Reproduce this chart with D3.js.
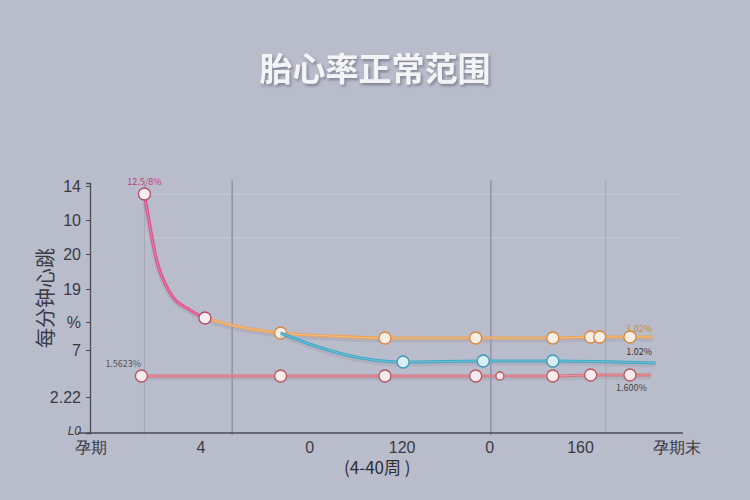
<!DOCTYPE html>
<html>
<head>
<meta charset="utf-8">
<script src="https://cdn.jsdelivr.net/npm/d3@7"></script>
<style>
  html, body { margin: 0; padding: 0; background: #b9bccb; }
  svg { display: block; font-family: "Noto Sans CJK SC", "Noto Sans", sans-serif; }
  .tick-label { fill: #3a3a44; font-size: 16px; }
  .pt-label { font-size: 9px; }
</style>
</head>
<body>
<div id="svg-container"></div>
<script>
////////////////////////////////////////////////////////////////////
////////////////////////////  Data  ////////////////////////////////
const title = "胎心率正常范围";
const yTitle = "每分钟心跳";
const xTitle = "(4-40周 )";

// axis ticks (value, label)
const xTickValues = [0, 7.3, 14.5, 20.6, 26.4, 32.4, 38.8];
const xTickLabels = ["孕期", "4", "0", "120", "0", "160", "孕期末"];
const yTickValues = [0, 14.4, 33.2, 44.4, 57.6, 71.6, 85.2, 98.8];
const yTickLabels = ["L0", "2.22", "7", "%", "19", "20", "10", "14"];
const xGridValues = [3.6, 9.4, 26.5, 34.1];
const yGridValues = [95.6, 78];

// series: x (week), y (value), m = marker drawn
const pinkX = [3.6, 4.4, 5.3, 6.6, 7.6];
const pinkY = [95.6, 69.2, 56, 49.2, 46];
const pinkM = [1, 0, 0, 0, 1];

const orangeX = [7.6, 9.9, 12.6, 15.9, 19.5, 25.5, 30.6, 33.1, 33.7, 35.7, 37.2];
const orangeY = [46, 42.4, 40, 38.8, 38, 38, 38, 38.4, 38.4, 38.4, 38.4];
const orangeM = [0, 0, 1, 0, 1, 1, 1, 1, 1, 1, 0];

const blueX = [12.6, 15.3, 17.9, 20.7, 26, 30.6, 37.4];
const blueY = [40, 34, 30, 28.4, 28.8, 28.8, 28];
const blueM = [0, 0, 0, 1, 1, 1, 0];

const redX = [3.4, 12.6, 19.5, 25.5, 27.1, 30.6, 33.1, 35.7, 37.1];
const redY = [22.8, 22.8, 22.8, 22.8, 22.8, 22.8, 23.2, 23.2, 23.2];
const redM = [1, 1, 1, 1, 2, 1, 1, 1, 0];

const labelText = ["12.5/8%", "1.5623%", "1.02%", "1.02%", "1.600%"];
const labelX = [3.6, 2.2, 36.3, 36.3, 35.8];
const labelY = [99.4, 26.4, 40.4, 31.2, 16.8];
const labelColor = ["#c0407a", "#555", "#c98a40", "#333", "#444"];

////////////////////////////////////////////////////////////////////
////////////////////////////  Init  ////////////////////////////////
const width = 750, height = 500;
const margin = { top: 183, right: 55, bottom: 67, left: 90 };

const svg = d3.select("#svg-container").append("svg")
  .attr("width", width).attr("height", height);

const defs = svg.append("defs");
const shadow = defs.append("filter").attr("id", "shadow")
  .attr("x", "-10%").attr("y", "-20%").attr("width", "130%").attr("height", "160%");
shadow.append("feDropShadow").attr("dx", 1.5).attr("dy", 2)
  .attr("stdDeviation", 1.5).attr("flood-color", "#6c6f80").attr("flood-opacity", 0.8);

const xScale = d3.scaleLinear().domain([0, 40]).range([margin.left, width - margin.right]);
const yScale = d3.scaleLinear().domain([0, 100]).range([height - margin.bottom, height - margin.bottom - 250]);

// title
svg.append("text")
  .attr("x", width / 2).attr("y", 81)
  .attr("text-anchor", "middle")
  .attr("font-size", 33).attr("font-weight", "bold")
  .attr("fill", "#f4f4f6")
  .attr("filter", "url(#shadow)")
  .text(title);

// grid
svg.selectAll(".ygrid").data(yGridValues).enter().append("line")
  .attr("x1", xScale(3.6)).attr("x2", xScale(39))
  .attr("y1", (d) => yScale(d)).attr("y2", (d) => yScale(d))
  .attr("stroke", "#c8cbd8").attr("stroke-width", 1);

svg.selectAll(".xgrid").data(xGridValues).enter().append("line")
  .attr("x1", (d) => xScale(d)).attr("x2", (d) => xScale(d))
  .attr("y1", yScale(101)).attr("y2", yScale(-1))
  .attr("stroke", (d, i) => (i === 1 || i === 2 ? "#8d909e" : "#a5a8b7"))
  .attr("stroke-width", (d, i) => (i === 1 || i === 2 ? 1.4 : 1.1));

// axes
const xAxis = d3.axisBottom(xScale).tickValues(xTickValues).tickSize(0)
  .tickFormat((d, i) => xTickLabels[i]);
const yAxis = d3.axisLeft(yScale).tickValues(yTickValues).tickSize(4)
  .tickFormat((d, i) => yTickLabels[i]);

const gx = svg.append("g").attr("transform", `translate(0,${yScale(0)})`).call(xAxis);
gx.select(".domain").attr("stroke", "#4a4b55").attr("stroke-width", 1.3)
  .attr("d", `M${xScale(-0.8)},0H${xScale(39.2)}`);
gx.selectAll("text").attr("class", "tick-label").attr("dy", 17);

const gy = svg.append("g").attr("transform", `translate(${xScale(0)},0)`).call(yAxis);
gy.select(".domain").attr("stroke", "#4a4b55").attr("stroke-width", 1.3);
gy.selectAll("line").attr("stroke", "#4a4b55");
gy.selectAll("text").attr("class", "tick-label").attr("dx", -2);
// the bottom tick label sits small and tucked against the axis
gy.selectAll(".tick text").filter((d) => d === 0)
  .style("font-size", "12px").attr("font-style", "italic").attr("dy", "0.1em");

svg.append("text")
  .attr("transform", `translate(53,${yScale(54)}) rotate(-90)`)
  .attr("text-anchor", "middle")
  .attr("font-size", 20).attr("fill", "#3a3a44")
  .text(yTitle);

svg.append("text")
  .attr("x", xScale(19)).attr("y", 474)
  .attr("text-anchor", "middle")
  .attr("font-size", 17).attr("fill", "#2d2d35")
  .text(xTitle);

////////////////////////////////////////////////////////////////////
////////////////////////////  Series  //////////////////////////////
const series = [
  { x: orangeX, y: orangeY, m: orangeM, color: "#eaa35a", ring: "#d9873f", fill: "#f7efe6" },
  { x: blueX, y: blueY, m: blueM, color: "#3ea8c6", ring: "#3c98b4", fill: "#d8eef3" },
  { x: redX, y: redY, m: redM, color: "#d8727e", ring: "#b9555f", fill: "#f6ecec" },
  { x: pinkX, y: pinkY, m: pinkM, color: "#e0508a", ring: "#b44a6a", fill: "#f6eef0" },
];

const line = d3.line().x((d) => xScale(d.x)).y((d) => yScale(d.y)).curve(d3.curveMonotoneX);

series.forEach((s) => {
  const pts = s.x.map((x, i) => ({ x: x, y: s.y[i], m: s.m[i] }));

  // soft halo under each line
  svg.append("path").datum(pts).attr("d", line)
    .attr("fill", "none").attr("stroke", "#9a9cab").attr("stroke-opacity", 0.35)
    .attr("stroke-width", 5).attr("transform", "translate(0,2)");
  svg.append("path").datum(pts).attr("d", line)
    .attr("fill", "none").attr("stroke", s.color).attr("stroke-width", 3.2);
  svg.append("path").datum(pts).attr("d", line)
    .attr("fill", "none").attr("stroke", "#ffffff").attr("stroke-opacity", 0.35)
    .attr("stroke-width", 0.8);

  svg.selectAll(null).data(pts.filter((d) => d.m > 0)).enter().append("circle")
    .attr("cx", (d) => xScale(d.x)).attr("cy", (d) => yScale(d.y))
    .attr("r", (d) => (d.m === 2 ? 4 : 6))
    .attr("fill", s.fill).attr("stroke", s.ring).attr("stroke-width", 1.3);
});

// point labels
svg.selectAll(".pt-label").data(labelText).enter().append("text")
  .attr("class", "pt-label")
  .attr("x", (d, i) => xScale(labelX[i])).attr("y", (d, i) => yScale(labelY[i]))
  .attr("text-anchor", "middle")
  .attr("fill", (d, i) => labelColor[i])
  .text((d) => d);
</script>
</body>
</html>
